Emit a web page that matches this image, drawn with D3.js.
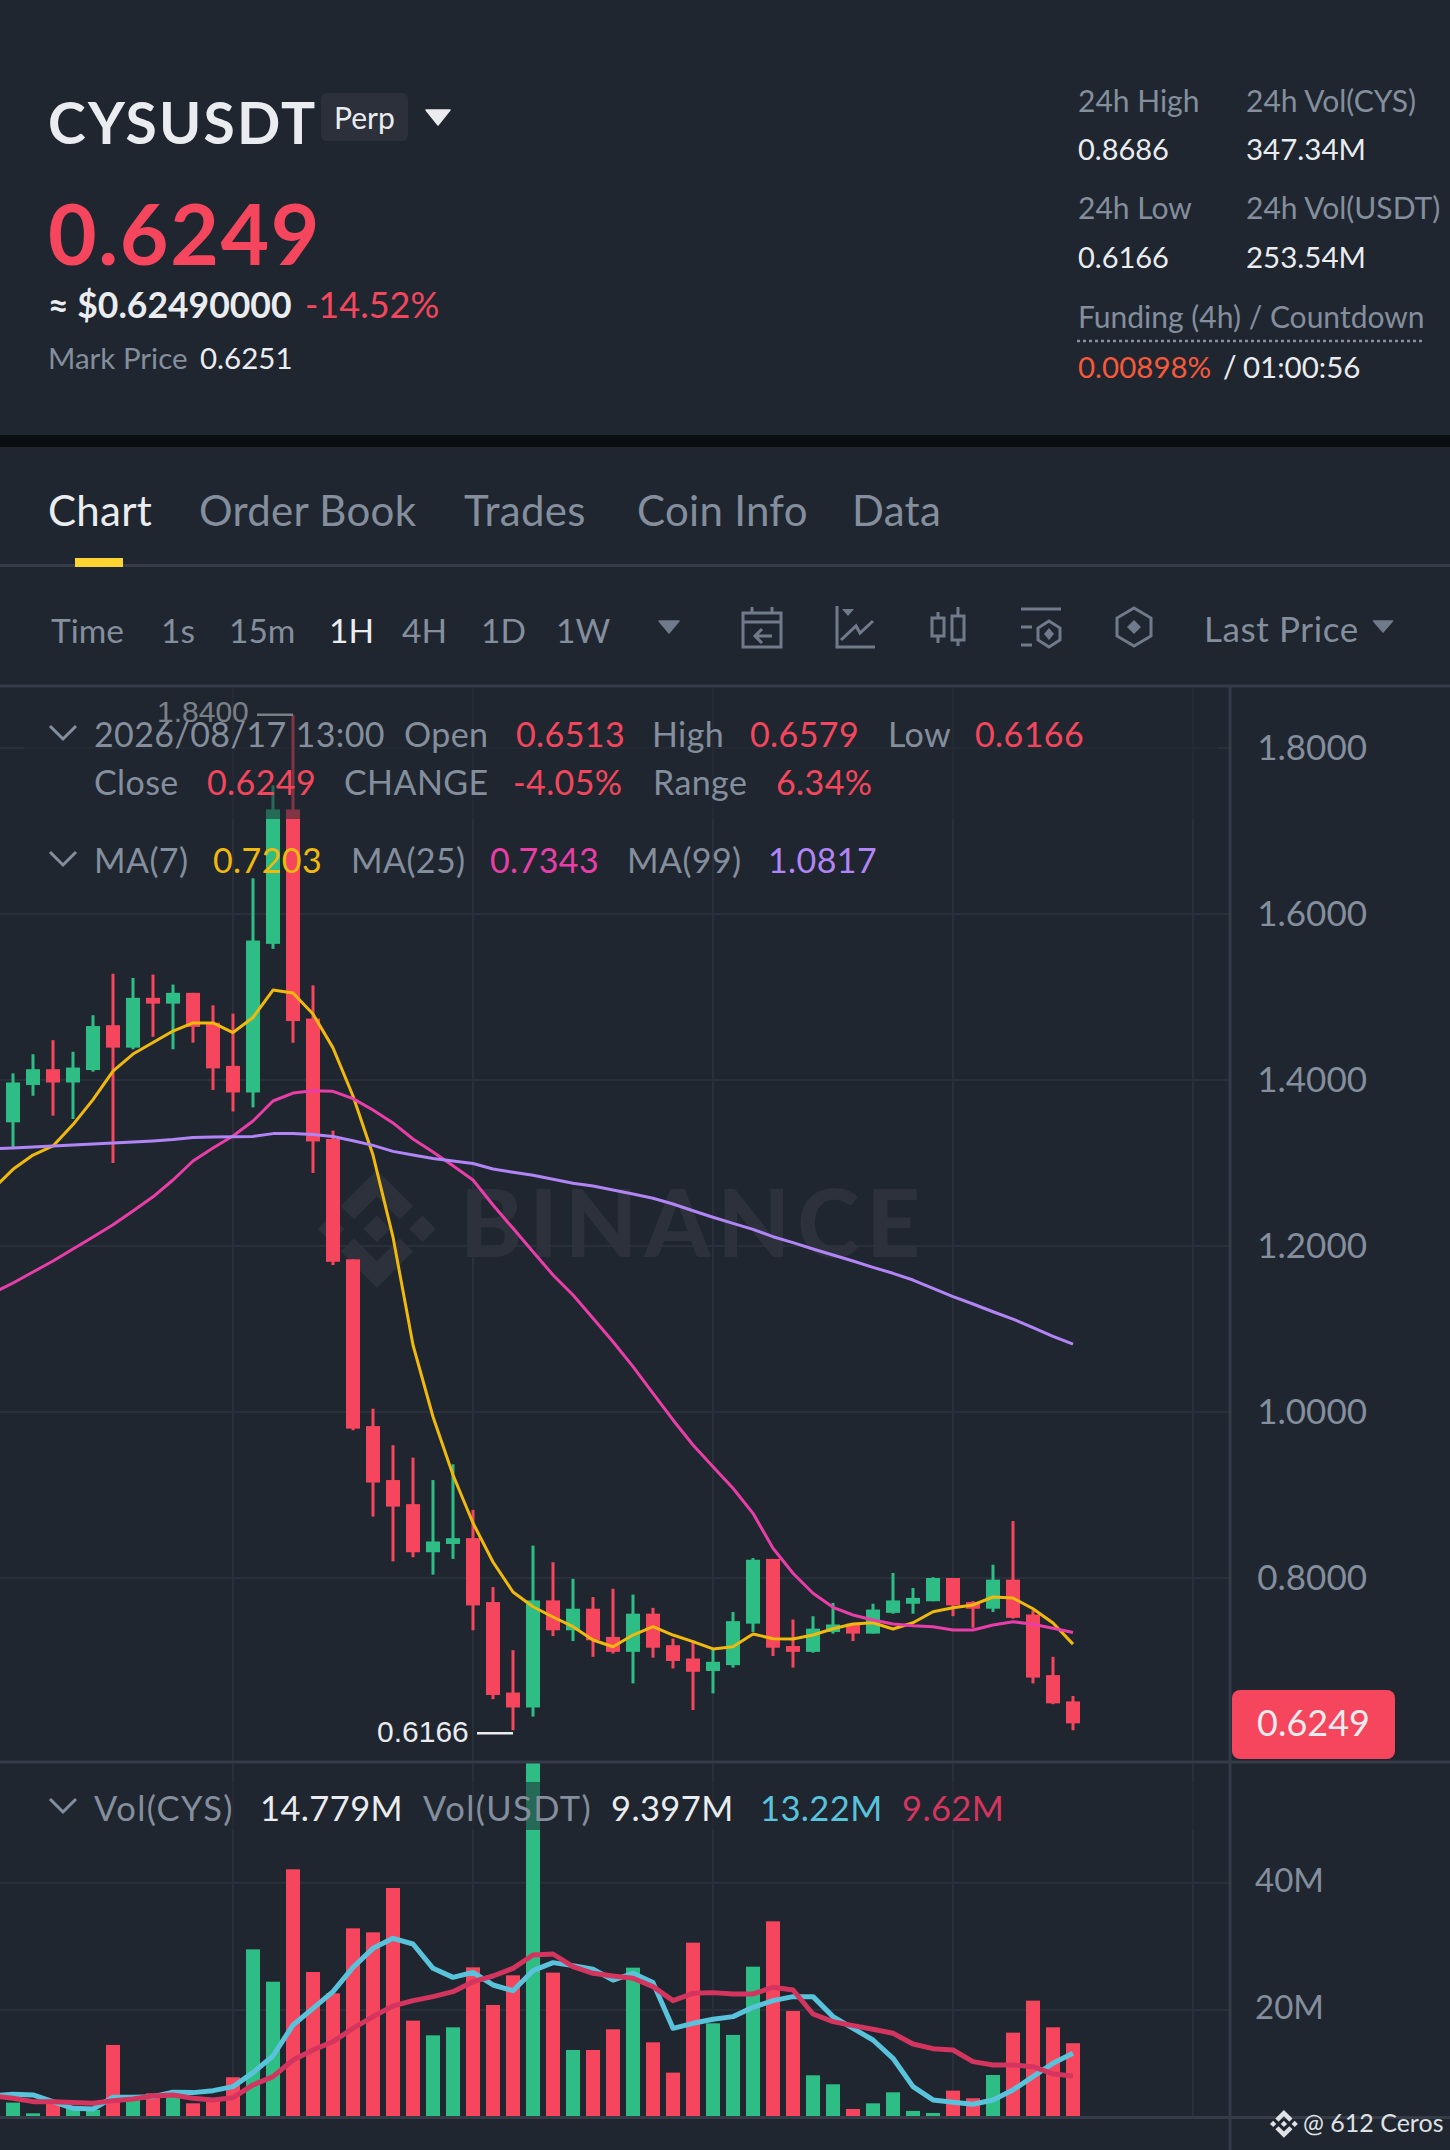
<!DOCTYPE html>
<html>
<head>
<meta charset="utf-8">
<script src="https://cdn.jsdelivr.net/npm/d3@7"></script>
<style>
  html, body { margin: 0; padding: 0; background: #1f2630; }
  svg { display: block; }
  text { font-family: Lato, "Open Sans", sans-serif; }
</style>
</head>
<body>
<svg id="chart"></svg>
<script>
// candles, oldest first, one per hour
const opens  = [1.349,1.394,1.413,1.397,1.412,1.466,1.439,1.499,1.492,1.505,1.469,1.417,1.385,1.564,1.726,1.474,1.329,1.184,0.983,0.918,0.889,0.831,0.841,0.848,0.771,0.662,0.644,0.773,0.737,0.763,0.729,0.711,0.757,0.719,0.703,0.688,0.695,0.745,0.823,0.718,0.711,0.735,0.745,0.733,0.758,0.769,0.772,0.800,0.771,0.763,0.798,0.756,0.683,0.6513];
const highs  = [1.408,1.431,1.448,1.434,1.478,1.528,1.523,1.527,1.515,1.505,1.490,1.480,1.643,1.755,1.840,1.514,1.339,1.184,1.004,0.960,0.945,0.918,0.937,0.882,0.789,0.713,0.839,0.819,0.799,0.777,0.787,0.780,0.764,0.727,0.725,0.714,0.759,0.824,0.823,0.750,0.754,0.770,0.745,0.769,0.806,0.788,0.801,0.800,0.772,0.816,0.8686,0.761,0.705,0.6579];
const lows   = [1.318,1.381,1.357,1.353,1.410,1.300,1.437,1.452,1.437,1.445,1.388,1.362,1.367,1.558,1.445,1.288,1.177,0.978,0.874,0.820,0.825,0.804,0.823,0.737,0.654,0.6166,0.633,0.730,0.724,0.705,0.709,0.673,0.704,0.691,0.641,0.661,0.692,0.735,0.706,0.692,0.710,0.733,0.724,0.733,0.757,0.757,0.772,0.754,0.740,0.759,0.751,0.673,0.648,0.6166];
const closes = [1.397,1.413,1.397,1.415,1.465,1.439,1.499,1.492,1.505,1.464,1.414,1.385,1.568,1.726,1.471,1.326,1.181,0.980,0.915,0.886,0.831,0.844,0.848,0.767,0.659,0.644,0.773,0.737,0.763,0.725,0.711,0.757,0.716,0.700,0.687,0.699,0.748,0.822,0.716,0.711,0.739,0.744,0.733,0.762,0.773,0.776,0.800,0.767,0.763,0.798,0.752,0.680,0.649,0.6249];

// moving averages, these start one candle earlier (just off the left edge)
const ma7  = [1.2687,1.2924,1.3096,1.3205,1.3463,1.3764,1.4108,1.4313,1.4452,1.4590,1.4687,1.4688,1.4572,1.4753,1.5084,1.5049,1.4795,1.4387,1.3807,1.3096,1.2108,1.0807,0.9943,0.9241,0.8663,0.8193,0.7831,0.7654,0.7530,0.7413,0.7253,0.7172,0.7313,0.7413,0.7313,0.7233,0.7145,0.7172,0.7325,0.7269,0.7265,0.7313,0.7389,0.7446,0.7461,0.7385,0.7461,0.7594,0.7642,0.7675,0.7771,0.7759,0.7630,0.7458,0.7203];
const ma25 = [1.1434,1.1554,1.1687,1.1819,1.1964,1.2108,1.2257,1.2422,1.2593,1.2795,1.3024,1.3181,1.3325,1.3506,1.3747,1.3843,1.3871,1.3863,1.3776,1.3639,1.3483,1.3289,1.3132,1.2967,1.2795,1.2494,1.2213,1.1931,1.1651,1.1410,1.1129,1.0847,1.0546,1.0225,0.9904,0.9602,0.9341,0.9081,0.8779,0.8358,0.8057,0.7816,0.7647,0.7554,0.7494,0.7446,0.7425,0.7413,0.7373,0.7373,0.7434,0.7473,0.7442,0.7394,0.7343];
const ma99 = [1.3173,1.3181,1.3193,1.3205,1.3217,1.3229,1.3241,1.3253,1.3265,1.3282,1.3307,1.3313,1.3316,1.3320,1.3354,1.3354,1.3342,1.3320,1.3269,1.3212,1.3140,1.3096,1.3053,1.3024,1.2994,1.2928,1.2888,1.2852,1.2804,1.2756,1.2723,1.2675,1.2627,1.2575,1.2506,1.2425,1.2346,1.2273,1.2201,1.2112,1.2040,1.1964,1.1892,1.1819,1.1743,1.1671,1.1590,1.1490,1.1389,1.1301,1.1208,1.1120,1.1016,1.0912,1.0817];

// volume in millions
const volumes = [5.45,3.77,5.34,4.56,4.30,14.51,5.87,6.91,6.65,5.34,6.13,9.43,29.53,24.45,42.10,25.97,22.62,32.83,32.20,39.17,18.33,16.02,17.28,26.70,20.79,25.45,59.00,25.87,13.72,13.72,16.97,26.65,14.92,10.16,30.58,17.91,16.08,26.81,33.93,19.85,9.74,8.33,4.45,5.34,7.07,4.14,3.82,7.33,6.13,9.79,16.44,21.47,17.28,14.779];
const volFast = [6.50,6.76,6.65,5.60,4.56,4.45,6.29,6.29,6.39,7.07,7.02,7.33,7.96,10.16,12.78,17.65,20.26,22.88,26.70,29.69,31.26,30.37,26.55,25.13,25.92,23.93,23.04,26.18,27.44,26.97,26.39,24.71,25.76,24.30,17.12,17.91,18.54,18.96,20.42,21.47,22.10,22.10,18.96,17.12,15.29,12.41,7.96,5.87,5.50,5.19,5.87,7.44,9.53,11.63,13.22];
const volSlow = [6.50,6.13,5.60,5.60,5.45,5.34,5.76,6.02,6.50,6.65,6.13,5.87,6.23,8.22,9.53,12.15,13.72,15.03,17.12,18.96,20.63,21.47,22.10,22.88,24.45,25.34,26.55,28.64,28.80,26.81,25.76,25.34,24.98,23.67,21.47,22.62,22.73,22.52,22.52,23.56,23.14,19.37,18.17,17.54,16.97,16.34,14.66,13.93,13.72,11.89,11.36,11.36,11.10,9.95,9.62];

const priceTicks = [0.8, 1.0, 1.2, 1.4, 1.6, 1.8];
const volTicks = [20, 40];
const gridCandles = [11, 23, 35, 47, 59];   // every 12 hours

const tabs = [["Chart", 48], ["Order Book", 199], ["Trades", 464], ["Coin Info", 637], ["Data", 852]];
const intervals = [["Time", 51], ["1s", 161], ["15m", 229], ["1H", 329], ["4H", 402], ["1D", 481], ["1W", 556]];

const RED = "#f6465d", GREEN = "#2ebd85", GRAY = "#848e9c", WHITE = "#eaecef", BG = "#1f2630";
const GRID = "#2a303b", RULE = "#353b47", ICON = "#707a8a";
const MA7C = "#f0b90b", MA25C = "#e93ea8", MA99C = "#b185f5", VFC = "#5ac3dc", VSC = "#d3355f";

const svg = d3.select("#chart").attr("width", 1450).attr("height", 2150);
svg.append("rect").attr("width", 1450).attr("height", 2150).attr("fill", BG);

function label(x, y, str, fill, size, weight, spacing) {
  return svg.append("text")
      .attr("x", x).attr("y", y).attr("fill", fill)
      .attr("font-size", size).attr("font-weight", weight || 400)
      .attr("letter-spacing", spacing || 0)
      .text(str);
}
function tri(cx, top, w, h, fill) {
  svg.append("path")
      .attr("d", `M${cx - w / 2},${top}h${w}l${-w / 2},${h}z`)
      .attr("fill", fill).attr("stroke", fill).attr("stroke-width", 1.5).attr("stroke-linejoin", "round");
}
function hrule(y, w, col, x1, x2) {
  return svg.append("line").attr("x1", x1 || 0).attr("x2", x2 || 1450).attr("y1", y).attr("y2", y)
      .attr("stroke", col).attr("stroke-width", w);
}
function chevron(cx, y1, y2) {
  svg.append("path").attr("d", `M${cx - 13},${y1}L${cx},${y2}L${cx + 13},${y1}`)
      .attr("fill", "none").attr("stroke", GRAY).attr("stroke-width", 3);
}
const LOGO = "M38.73 53.2l24.59-24.58 24.6 24.6 14.3-14.31L63.32 0 24.42 38.9zM0 63.31l14.3-14.31 14.31 14.31-14.31 14.3zM38.73 73.41l24.59 24.59 24.6-24.6 14.31 14.29-38.9 38.91-38.91-38.88-.02-.02zM98 63.31l14.3-14.31 14.31 14.3-14.31 14.32zM77.83 63.3L63.32 48.78 48.81 63.28l14.51 14.5z";

// ---- header ----
label(48, 144, "CYSUSDT", WHITE, 57, 700, 2.2);
svg.append("rect").attr("x", 321).attr("y", 93).attr("width", 87).attr("height", 48).attr("rx", 6).attr("fill", "#2b303b");
label(334, 129, "Perp", WHITE, 30);
tri(438, 110, 24, 15, WHITE);
label(48, 265, "0.6249", RED, 84, 700, 1.6);
label(48, 318, "≈ $0.62490000", WHITE, 35.5, 700);
label(305, 318, "-14.52%", RED, 36, 400);
label(48, 369, "Mark Price", GRAY, 29.5);
label(200, 369, "0.6251", WHITE, 29.5);

label(1078, 112, "24h High", GRAY, 30);
label(1246, 112, "24h Vol(CYS)", GRAY, 30);
label(1078, 160, "0.8686", WHITE, 29);
label(1246, 160, "347.34M", WHITE, 29.5);
label(1078, 219, "24h Low", GRAY, 30);
label(1246, 219, "24h Vol(USDT)", GRAY, 30);
label(1078, 268, "0.6166", WHITE, 29);
label(1246, 268, "253.54M", WHITE, 29.5);
label(1078, 328, "Funding (4h) / Countdown", GRAY, 30);
hrule(341, 2.5, GRAY, 1077, 1422).attr("stroke-dasharray", "3 3");
label(1078, 378, "0.00898%", "#f7593a", 29.5);
label(1223, 378, "/", WHITE, 30);
label(1243, 378, "01:00:56", WHITE, 29.5);

svg.append("rect").attr("x", 0).attr("y", 435).attr("width", 1450).attr("height", 12).attr("fill", "#0b0e11");

// ---- tabs and toolbar ----
tabs.forEach((t, i) => label(t[1], 526, t[0], i === 0 ? WHITE : GRAY, 42, 400, 0.3));
hrule(565.5, 3, RULE);
svg.append("rect").attr("x", 75).attr("y", 558).attr("width", 48).attr("height", 9).attr("fill", "#fcd535");
intervals.forEach(t => label(t[1], 643, t[0], t[0] === "1H" ? WHITE : GRAY, 33.5));
tri(669, 621, 20, 12, ICON);

const icons = svg.append("g").attr("fill", "none").attr("stroke", ICON).attr("stroke-width", 3);
// calendar
icons.append("rect").attr("x", 743).attr("y", 613).attr("width", 38).attr("height", 34);
icons.append("path").attr("d", "M743,622H781M752,607V613M772,607V613M772,636H755M762,629L755,636L762,643");
// line chart
icons.append("path").attr("d", "M837,606V647H875M841,640L856,626L860,633L873,621");
icons.append("path").attr("d", "M842,609H854L848,616z").attr("fill", ICON).attr("stroke", "none");
// candles
icons.append("path").attr("d", "M938,612V618M938,636V643M958,607V616M958,640V646");
icons.append("rect").attr("x", 932).attr("y", 618).attr("width", 12).attr("height", 18);
icons.append("rect").attr("x", 952).attr("y", 616).attr("width", 12).attr("height", 24);
// settings
icons.append("path").attr("d", "M1021,609H1061M1021,627H1032M1021,645H1032M1049,621L1060,628V640L1049,647L1038,640V628z");
icons.append("path").attr("d", "M1049,628L1054,634L1049,640L1044,634z").attr("fill", ICON).attr("stroke", "none");
// hexagon
icons.append("path").attr("d", "M1134,608L1151,618V636L1134,646L1117,636V618z");
icons.append("path").attr("d", "M1134,620L1141,627L1134,634L1127,627z").attr("fill", ICON).attr("stroke", "none");
label(1204, 642, "Last Price", GRAY, 35, 400, 0.6);
tri(1383, 621, 19, 11, ICON);
hrule(686, 3, RULE);

// ---- scales ----
const x = d3.scaleLinear().domain([0, 53]).range([13, 1073]);
const yPrice = d3.scaleLinear().domain([0.8, 1.8]).range([1578, 748]);
const yVol = d3.scaleLinear().domain([20, 40]).range([2010, 1882.7]);
const VOL_BASE = 2117;

// ---- grid and watermark ----
const grid = svg.append("g").attr("stroke", GRID).attr("stroke-width", 2);
grid.selectAll(".gx").data(gridCandles).join("line")
    .attr("x1", d => x(d)).attr("x2", d => x(d)).attr("y1", 688).attr("y2", VOL_BASE);
grid.selectAll(".gp").data(priceTicks).join("line")
    .attr("x1", 0).attr("x2", 1230).attr("y1", d => yPrice(d)).attr("y2", d => yPrice(d));
grid.selectAll(".gv").data(volTicks).join("line")
    .attr("x1", 0).attr("x2", 1230).attr("y1", d => yVol(d)).attr("y2", d => yVol(d));

svg.append("path").attr("d", LOGO).attr("fill", "#2c313c")
    .attr("transform", "translate(318,1170) scale(0.93)");
label(460, 1257, "BINANCE", "#2c313c", 94, 900, 7);

// ---- candles ----
const idx = d3.range(opens.length);
const isUp = i => closes[i] >= opens[i];
const candles = svg.append("g");
candles.selectAll(".wick").data(idx).join("line")
    .attr("class", "wick")
    .attr("x1", i => x(i)).attr("x2", i => x(i))
    .attr("y1", i => yPrice(highs[i])).attr("y2", i => yPrice(lows[i]))
    .attr("stroke", i => isUp(i) ? GREEN : RED).attr("stroke-width", 3);
candles.selectAll(".body").data(idx).join("rect")
    .attr("class", "body")
    .attr("x", i => x(i) - 7).attr("width", 14)
    .attr("y", i => yPrice(Math.max(opens[i], closes[i])))
    .attr("height", i => Math.max(2, Math.abs(yPrice(opens[i]) - yPrice(closes[i]))))
    .attr("fill", i => isUp(i) ? GREEN : RED);

const priceLine = d3.line().x((d, i) => x(i - 1)).y(d => yPrice(d));
[[ma7, MA7C], [ma25, MA25C], [ma99, MA99C]].forEach(s => {
  svg.append("path").datum(s[0]).attr("d", priceLine)
      .attr("fill", "none").attr("stroke", s[1]).attr("stroke-width", 3).attr("stroke-linejoin", "round");
});

// high / low markers
const hiLo = svg.append("g").attr("stroke", WHITE).attr("stroke-width", 2.5);
hiLo.append("line").attr("x1", 257).attr("x2", x(14)).attr("y1", yPrice(1.84)).attr("y2", yPrice(1.84));
hiLo.append("line").attr("x1", 477).attr("x2", x(25)).attr("y1", yPrice(0.6166) + 3).attr("y2", yPrice(0.6166) + 3);
label(157, 722, "1.8400", WHITE, 30).style("font-family", "'Liberation Sans'");
label(377, 1742, "0.6166", WHITE, 30).style("font-family", "'Liberation Sans'");

// ---- volume panel ----
svg.append("g").selectAll("rect").data(idx).join("rect")
    .attr("x", i => x(i) - 7).attr("width", 14)
    .attr("y", i => yVol(volumes[i]))
    .attr("height", i => VOL_BASE - yVol(volumes[i]))
    .attr("fill", i => isUp(i) ? GREEN : RED);
const volLine = d3.line().x((d, i) => x(i - 1)).y(d => yVol(d));
[[volFast, VFC], [volSlow, VSC]].forEach(s => {
  svg.append("path").datum(s[0]).attr("d", volLine)
      .attr("fill", "none").attr("stroke", s[1]).attr("stroke-width", 5).attr("stroke-linejoin", "round");
});

// legend backdrops dim whatever runs behind the first legend rows
svg.append("rect").attr("x", 24).attr("y", 688).attr("width", 1194).attr("height", 131).attr("fill", BG).attr("opacity", 0.55);
svg.append("rect").attr("x", 24).attr("y", 1782).attr("width", 1194).attr("height", 48).attr("fill", BG).attr("opacity", 0.55);

hrule(1762, 3, RULE);
hrule(2117.5, 3, RULE);
svg.append("line").attr("x1", 1230).attr("x2", 1230).attr("y1", 687).attr("y2", 2150)
    .attr("stroke", RULE).attr("stroke-width", 3);

// ---- legends ----
chevron(63, 726, 739);
[["2026/08/17 13:00", 94, GRAY], ["Open", 404, GRAY], ["0.6513", 516, RED], ["High", 652, GRAY], ["0.6579", 750, RED], ["Low", 888, GRAY], ["0.6166", 975, RED]]
  .forEach(t => label(t[1], 747, t[0], t[2], 34, 400, 0.4));
[["Close", 94, GRAY], ["0.6249", 207, RED], ["CHANGE", 344, GRAY], ["-4.05%", 513, RED], ["Range", 653, GRAY], ["6.34%", 776, RED]]
  .forEach(t => label(t[1], 795, t[0], t[2], 34, 400, 0.4));
chevron(63, 852, 865);
[["MA(7)", 94, GRAY], ["0.7203", 213, MA7C], ["MA(25)", 351, GRAY], ["0.7343", 490, MA25C], ["MA(99)", 627, GRAY], ["1.0817", 768, MA99C]]
  .forEach(t => label(t[1], 873, t[0], t[2], 34, 400, 0.4));
chevron(63, 1799, 1812);
[["Vol(CYS)", 94, GRAY], ["14.779M", 260, WHITE], ["Vol(USDT)", 423, GRAY], ["9.397M", 611, WHITE], ["13.22M", 760, VFC], ["9.62M", 902, VSC]]
  .forEach(t => label(t[1], 1821, t[0], t[2], 34.5, 400, t[0].startsWith("Vol") ? 1.4 : 0.4));

// ---- axes ----
const priceAxis = d3.axisRight(yPrice).tickValues(priceTicks).tickFormat(d3.format(".4f")).tickSize(0).tickPadding(0);
const volAxis = d3.axisRight(yVol).tickValues(volTicks).tickFormat(d => d + "M").tickSize(0).tickPadding(0);
svg.append("g").attr("transform", "translate(1367,0)").call(priceAxis)
    .call(g => g.select(".domain").remove())
    .call(g => g.selectAll("text").attr("text-anchor", "end").attr("fill", GRAY).attr("font-size", 35).attr("font-family", "Lato"));
svg.append("g").attr("transform", "translate(1255,-2)").call(volAxis)
    .call(g => g.select(".domain").remove())
    .call(g => g.selectAll("text").attr("fill", GRAY).attr("font-size", 33).attr("font-family", "Lato"));

// last price tag
svg.append("rect").attr("x", 1232).attr("y", 1690).attr("width", 163).attr("height", 69).attr("rx", 8).attr("fill", RED);
label(1313.5, 1736, "0.6249", WHITE, 36).attr("text-anchor", "middle");

// ---- share watermark ----
svg.append("path").attr("d", LOGO).attr("fill", "#dfe1e5")
    .attr("transform", "translate(1270,2110) scale(0.22)");
label(1303, 2132, "@ 612 Ceros", "#dfe1e5", 25);
</script>
</body>
</html>
